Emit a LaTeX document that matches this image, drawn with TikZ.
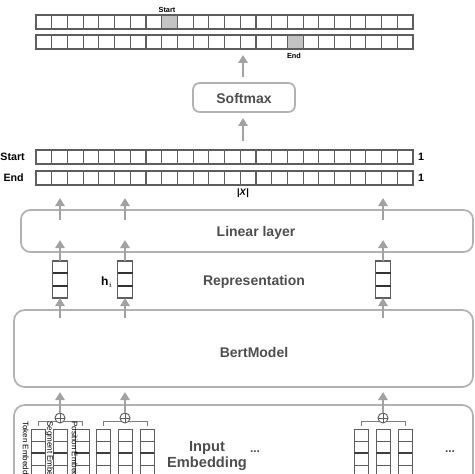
\documentclass[tikz,border=0pt]{standalone}
\usepackage{fontspec}
\setmainfont{Liberation Sans}
\usetikzlibrary{arrows.meta}
\definecolor{boxc}{HTML}{B2B2B2}
\definecolor{arrc}{HTML}{A2A2A2}
\definecolor{txtc}{HTML}{4E4E4E}
\definecolor{cellc}{HTML}{5E5E5E}
\definecolor{hl}{HTML}{C4C4C4}
\begin{document}
\begin{tikzpicture}[x=0.75pt,y=-0.75pt,
  blk/.style={draw=boxc, line width=1.3pt, rounded corners=7pt, inner sep=0pt, outer sep=0pt},
  lbl/.style={text=txtc, font=\fontsize{10.5}{12}\selectfont\bfseries, inner sep=0pt},
  grid/.style={draw=cellc, line width=0.85pt},
  rowbox/.style={minimum width=282.75pt, minimum height=10.5pt, inner sep=0pt, outer sep=0pt},
  hlfill/.style={fill=hl, draw=none, minimum width=11.7825pt, minimum height=10.5pt, inner sep=0pt, outer sep=0pt},
  small/.style={font=\fontsize{5.5}{6}\selectfont\bfseries, inner sep=0pt},
  side/.style={font=\fontsize{8}{9}\selectfont\bfseries, inner sep=0pt},
  arr/.style={draw=arrc, line width=1.6pt, -{Triangle[width=7pt,length=6pt]}},
  vec/.style={draw=cellc, line width=0.8pt, minimum width=11.25pt, minimum height=27.75pt, inner sep=0pt, outer sep=0pt},
  ecell/.style={draw=cellc, line width=0.7pt},
  plus/.style={draw=cellc, line width=0.7pt, circle, minimum size=7.5pt, inner sep=0pt, outer sep=0pt, fill=white},
  brk/.style={draw=cellc!80, line width=0.7pt},
  rot/.style={font=\fontsize{6}{7}\selectfont, rotate=-90, anchor=west, inner sep=0pt},
  dots/.style={text=txtc, font=\fontsize{9}{10}\selectfont\bfseries, inner sep=0pt}
]
\useasboundingbox (0,0) rectangle (474,474);
\clip (0,0) rectangle (474,474);

% ---------- top two rows ----------
\node[hlfill] (fa) at (36+15.71*8+7.855,22) {};
\node[hlfill] (fb) at (36+15.71*16+7.855,42) {};
\foreach \y/\n in {22/ta,42/tb,157/ma,178/mb}{
  \node[rowbox, grid] (\n) at (224.5,\y) {};
  \foreach \i in {1,...,23}{
    \draw[grid] (36+15.71*\i,\y-7) -- (36+15.71*\i,\y+7);
  }
}
\node[small] (tstart) at (167,10) {Start};
\node[small] (tend) at (294,56) {End};

% ---------- softmax ----------
\node[blk, rounded corners=5pt, minimum width=76.5pt, minimum height=21.75pt] (soft) at (244,97.5) {};
\node[lbl] (softt) at (244,98) {Softmax};
\coordinate (s1) at (243,77);
\coordinate (s1t) at (243,55);
\draw[arr] (s1) -- (s1t);
\coordinate (s2) at (243,141);
\coordinate (s2t) at (243,118);
\draw[arr] (s2) -- (s2t);

% ---------- middle rows labels ----------
\node[side, anchor=east] (lstart) at (25,157) {Start};
\node[side, anchor=east] (lend) at (24,178) {End};
\node[side] (one1) at (421,157) {1};
\node[side] (one2) at (421,178) {1};
\node[font=\fontsize{7}{8}\selectfont\bfseries, inner sep=0pt] (absx) at (243,193) {|\textit{X}|};

% ---------- linear layer ----------
\node[blk, minimum width=339pt, minimum height=31.5pt] (lin) at (247,231) {};
\node[lbl] (lint) at (256,233) {Linear layer};

% ---------- representation ----------
\node[lbl] (rept) at (254,282) {Representation};
\node[font=\fontsize{9}{10}\selectfont, inner sep=0pt] (hi) at (107,282) {$\mathbf{h}_i$};

% ---------- bert ----------
\node[blk, rounded corners=8pt, minimum width=344.25pt, minimum height=57.75pt] (bert) at (243.5,348.5) {};
\node[lbl] (bertt) at (254,352) {BertModel};

% ---------- input embedding ----------
\node[blk, rounded corners=8pt, minimum width=344.25pt, minimum height=75pt] (inp) at (243.5,455) {};
\node[text=txtc, font=\fontsize{11}{11.5}\selectfont\bfseries, align=center, inner sep=0pt] (inpt) at (207,456) {Input\\Embedding};
\node[dots] (d1) at (255,452) {...};
\node[dots] (d2) at (450,452) {...};

\foreach \c/\n in {60/1,125/2,383/3}{
  % embedding columns
  \foreach \d in {-22,0,22}{
    \foreach \r in {429,441,453,465}{
      \draw[ecell] (\c+\d-7,\r) rectangle (\c+\d+7,\r+12);
    }
    \draw[draw=black!75, line width=0.8pt] (\c+\d-7,453) -- (\c+\d+7,453);
  }
  \draw[brk] (\c-22,426) -- (\c-22,421) -- (\c+22,421) -- (\c+22,426);
  \node[plus] (o\n) at (\c,418) {};
  \draw[draw=cellc, line width=0.6pt] (o\n.north) -- (o\n.south) (o\n.west) -- (o\n.east);
  % representation vectors
  \node[vec] (v\n) at (\c,279.5) {};
  \draw[draw=black!80, line width=0.8pt] (\c-7.5,273) -- (\c+7.5,273) (\c-7.5,286) -- (\c+7.5,286);
  % arrows
  \coordinate (b\n) at (\c,318);
  \coordinate (bi\n) at (\c,392);
  \coordinate (li\n) at (\c,240);
  \coordinate (lo\n) at (\c,220);
  \coordinate (lt\n) at (\c,198);
  \draw[arr] (o\n.north) -- (bi\n);
  \draw[arr] (b\n) -- (v\n.south);
  \draw[arr] (v\n.north) -- (li\n);
  \draw[arr] (lo\n) -- (lt\n);
}

\node[rot] (tok) at (25,421) {Token Embedding};
\node[rot] (seg) at (49.5,421) {Segment Embedding};
\node[rot] (pos) at (74,421) {Position Embedding};
\end{tikzpicture}
\end{document}
